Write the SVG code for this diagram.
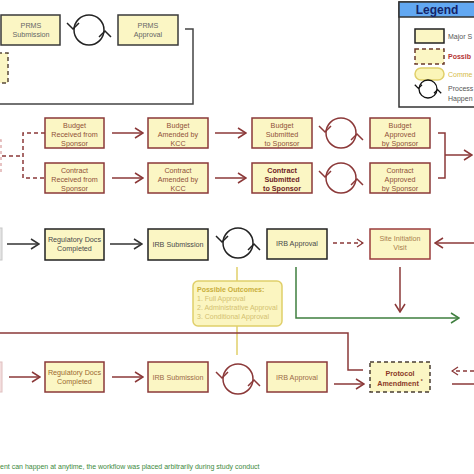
<svg xmlns="http://www.w3.org/2000/svg" width="474" height="474" viewBox="0 0 474 474">
<style>
.bx{fill:#fbf6c4;stroke-width:1.5}
.k{stroke:#333}
.r{stroke:#8b3838}
.d{stroke-dasharray:4,3}
.t{font-family:"Liberation Sans",Arial,sans-serif;font-size:7.2px;text-anchor:middle}
.tg{fill:#666}
.tk{fill:#4a4a4a}
.tb{fill:#8f5038}
.ln{fill:none;stroke-width:1.5}
.lg{font-family:"Liberation Sans",Arial,sans-serif;font-size:7px}
</style>
<defs>
<marker id="mr" viewBox="0 0 10 12" refX="9" refY="6" markerWidth="10" markerHeight="12" markerUnits="userSpaceOnUse" orient="auto"><path d="M1,1 L9,6 L1,11" fill="none" stroke="#8b3838" stroke-width="1.5"/></marker>
<marker id="mk" viewBox="0 0 10 12" refX="9" refY="6" markerWidth="10" markerHeight="12" markerUnits="userSpaceOnUse" orient="auto"><path d="M1,1 L9,6 L1,11" fill="none" stroke="#333" stroke-width="1.5"/></marker>
<marker id="mg" viewBox="0 0 10 12" refX="9" refY="6" markerWidth="10" markerHeight="12" markerUnits="userSpaceOnUse" orient="auto"><path d="M1,1 L9,6 L1,11" fill="none" stroke="#3f7f3f" stroke-width="1.5"/></marker>
<marker id="ms" viewBox="0 0 8 10" refX="7" refY="5" markerWidth="8" markerHeight="10" markerUnits="userSpaceOnUse" orient="auto"><path d="M1,1 L7,5 L1,9" fill="none" stroke="#8b3838" stroke-width="1.3"/></marker>
<g id="cyc" fill="none">
<circle cx="0" cy="0" r="15"/>
<polyline points="-22,-7 -16,-1 -10,-7"/>
<polyline points="22,7 16,1 10,7"/>
</g>
</defs>
<rect width="474" height="474" fill="#fff"/>

<g id="connectors">
<polyline class="ln" stroke="#444" points="185,29 193,29 193,104 0,104"/>
<use href="#cyc" x="89" y="30" stroke="#222" stroke-width="1.5"/>
<line class="ln r d" x1="2" y1="156" x2="23" y2="156"/>
<polyline class="ln r d" points="45,133 23,133 23,178 45,178"/>
<line class="ln r" x1="112" y1="133" x2="143" y2="133" marker-end="url(#mr)"/>
<line class="ln r" x1="112" y1="178" x2="143" y2="178" marker-end="url(#mr)"/>
<line class="ln r" x1="215" y1="133" x2="246" y2="133" marker-end="url(#mr)"/>
<line class="ln r" x1="215" y1="178" x2="246" y2="178" marker-end="url(#mr)"/>
<use href="#cyc" x="341" y="133" stroke="#8b3838" stroke-width="1.5"/>
<use href="#cyc" x="341" y="178" stroke="#8b3838" stroke-width="1.5"/>
<polyline class="ln r" points="438,133 445,133 445,178 438,178"/>
<line class="ln r" x1="445" y1="155" x2="472" y2="155" marker-end="url(#mr)"/>
<line class="ln k" x1="7" y1="244" x2="39" y2="244" marker-end="url(#mk)"/>
<line class="ln k" x1="110" y1="244" x2="142" y2="244" marker-end="url(#mk)"/>
<use href="#cyc" x="238" y="243" stroke="#222" stroke-width="1.5"/>
<line class="ln r d" x1="333" y1="243" x2="363" y2="243" marker-end="url(#ms)"/>
<line class="ln r" x1="474" y1="243" x2="435" y2="243" marker-end="url(#mr)"/>
<line class="ln r" x1="400" y1="267" x2="400" y2="312" marker-end="url(#mr)"/>
<polyline class="ln" stroke="#3f7f3f" points="296,267 296,318 459,318" marker-end="url(#mg)"/>
<line class="ln" stroke="#e0cf6a" x1="237" y1="267" x2="237" y2="281"/>
<line class="ln" stroke="#e0cf6a" x1="237" y1="326" x2="237" y2="355"/>
<polyline class="ln r" points="0,333 348,333 348,370 363,370"/>
<line class="ln r" x1="9" y1="377" x2="40" y2="377" marker-end="url(#mr)"/>
<line class="ln r" x1="112" y1="377" x2="143" y2="377" marker-end="url(#mr)"/>
<use href="#cyc" x="238" y="379" stroke="#8b3838" stroke-width="1.5"/>
<line class="ln r" x1="334" y1="384" x2="364" y2="384" marker-end="url(#mr)"/>
<line class="ln r d" x1="474" y1="371" x2="452" y2="371" marker-end="url(#ms)"/>
<line class="ln r" x1="452" y1="384" x2="474" y2="384"/>
</g>

<g id="edge-fragments">
<rect x="-30" y="53" width="38" height="30" class="bx d" stroke="#5a4a3a"/>
<rect x="-30" y="140" width="31" height="32" fill="none" stroke="#e0b0b0" stroke-width="1.5" stroke-dasharray="3,3"/>
<rect x="-20" y="228" width="22" height="32" fill="#e4e4e4" stroke="#c8c8c8"/>
<rect x="-20" y="362" width="22" height="30" fill="#f3dede" stroke="#e0c0c0"/>
</g>

<g id="prms-submission"><rect x="1" y="15" width="59" height="30" class="bx" stroke="#3a3a3a"/><text class="t tg" x="31" y="27.5">PRMS</text><text class="t tg" x="31" y="36.5">Submission</text></g>
<g id="prms-approval"><rect x="118" y="15" width="60" height="30" class="bx" stroke="#3a3a3a"/><text class="t tg" x="148" y="27.5">PRMS</text><text class="t tg" x="148" y="36.5">Approval</text></g>

<g id="budget-received"><rect x="45" y="118" width="59" height="30" class="bx r"/><text class="t tb" x="74.5" y="127.6">Budget</text><text class="t tb" x="74.5" y="136.6">Received from</text><text class="t tb" x="74.5" y="145.6">Sponsor</text></g>
<g id="budget-amended"><rect x="148" y="118" width="60" height="30" class="bx r"/><text class="t tb" x="178" y="127.6">Budget</text><text class="t tb" x="178" y="136.6">Amended by</text><text class="t tb" x="178" y="145.6">KCC</text></g>
<g id="budget-submitted"><rect x="252" y="118" width="60" height="30" class="bx r"/><text class="t tb" x="282" y="127.6">Budget</text><text class="t tb" x="282" y="136.6">Submitted</text><text class="t tb" x="282" y="145.6">to Sponsor</text></g>
<g id="budget-approved"><rect x="370" y="118" width="60" height="30" class="bx r"/><text class="t tb" x="400" y="127.6">Budget</text><text class="t tb" x="400" y="136.6">Approved</text><text class="t tb" x="400" y="145.6">by Sponsor</text></g>

<g id="contract-received"><rect x="45" y="163" width="59" height="30" class="bx r"/><text class="t tb" x="74.5" y="172.6">Contract</text><text class="t tb" x="74.5" y="181.6">Received from</text><text class="t tb" x="74.5" y="190.6">Sponsor</text></g>
<g id="contract-amended"><rect x="148" y="163" width="60" height="30" class="bx r"/><text class="t tb" x="178" y="172.6">Contract</text><text class="t tb" x="178" y="181.6">Amended by</text><text class="t tb" x="178" y="190.6">KCC</text></g>
<g id="contract-submitted"><rect x="252" y="163" width="60" height="30" class="bx r"/><text class="t" fill="#6e2424" font-weight="bold" font-size="7" x="282" y="172.6">Contract</text><text class="t" fill="#6e2424" font-weight="bold" font-size="7" x="282" y="181.6">Submitted</text><text class="t" fill="#6e2424" font-weight="bold" font-size="7" x="282" y="190.6">to Sponsor</text></g>
<g id="contract-approved"><rect x="370" y="163" width="60" height="30" class="bx r"/><text class="t tb" x="400" y="172.6">Contract</text><text class="t tb" x="400" y="181.6">Approved</text><text class="t tb" x="400" y="190.6">by Sponsor</text></g>

<g id="reg-docs-1"><rect x="45" y="229" width="59" height="31" class="bx" stroke="#222"/><text class="t tk" x="74.5" y="241.5">Regulatory Docs</text><text class="t tk" x="74.5" y="251">Completed</text></g>
<g id="irb-submission-1"><rect x="148" y="229" width="60" height="31" class="bx" stroke="#222"/><text class="t tk" x="178" y="246.5">IRB Submission</text></g>
<g id="irb-approval-1"><rect x="267" y="229" width="60" height="30" class="bx" stroke="#222"/><text class="t tk" x="297" y="246">IRB Approval</text></g>
<g id="site-initiation"><rect x="370" y="229" width="60" height="30" class="bx" stroke="#9a3c3c"/><text class="t" fill="#a8804e" x="400" y="240.5">Site Initiation</text><text class="t" fill="#a8804e" x="400" y="250">Visit</text></g>

<g id="possible-outcomes"><rect x="193" y="281" width="89" height="45" rx="5" fill="#fbf5c0" stroke="#e0cf6a" stroke-width="1.5"/>
<text font-family="Liberation Sans,Arial,sans-serif" font-size="7" fill="#c9ae3c" font-weight="bold" x="197" y="292">Possible Outcomes:</text>
<text font-family="Liberation Sans,Arial,sans-serif" font-size="7" fill="#d3c170" x="197" y="301">1. Full Approval</text>
<text font-family="Liberation Sans,Arial,sans-serif" font-size="7" fill="#d3c170" x="197" y="310">2. Administrative Approval</text>
<text font-family="Liberation Sans,Arial,sans-serif" font-size="7" fill="#d3c170" x="197" y="319">3. Conditional Approval</text></g>

<g id="reg-docs-2"><rect x="45" y="362" width="59" height="30" class="bx r"/><text class="t" fill="#9c6a30" x="74.5" y="374.5">Regulatory Docs</text><text class="t" fill="#9c6a30" x="74.5" y="384">Completed</text></g>
<g id="irb-submission-2"><rect x="148" y="362" width="60" height="30" class="bx r"/><text class="t" fill="#9c6a48" x="178" y="379.5">IRB Submission</text></g>
<g id="irb-approval-2"><rect x="267" y="362" width="60" height="30" class="bx r"/><text class="t" fill="#9c6a48" x="297" y="379.5">IRB Approval</text></g>
<g id="protocol-amendment"><rect x="370" y="362" width="60" height="30" class="bx d" stroke="#4a3e32"/><text class="t" fill="#8a3a26" font-weight="bold" x="400" y="375.5">Protocol</text><text class="t" fill="#8a3a26" font-weight="bold" x="400" y="386">Amendment <tspan font-size="5" dy="-3">*</tspan></text></g>

<g id="legend">
<rect x="399" y="2" width="100" height="105" fill="#fff" stroke="#333" stroke-width="1.5"/>
<rect x="399" y="2" width="100" height="15" fill="#62a8f2" stroke="#333" stroke-width="1.5"/>
<text font-family="Liberation Sans,Arial,sans-serif" font-size="12" font-weight="bold" fill="#15246a" x="437" y="14" text-anchor="middle">Legend</text>
<rect x="415" y="29" width="29" height="14" class="bx" stroke="#222"/>
<text class="lg" fill="#555" x="448" y="39">Major S</text>
<rect x="415" y="49" width="29" height="15" class="bx d" stroke="#6a3a2a"/>
<text class="lg" fill="#b53434" font-weight="bold" x="448" y="59">Possib</text>
<rect x="415" y="68" width="29" height="12" rx="6" fill="#fbf5b8" stroke="#e0cf6a" stroke-width="1.5"/>
<text class="lg" fill="#d6bc4a" x="448" y="77">Comme</text>
<use href="#cyc" transform="translate(428,89) scale(0.6)" stroke="#111" stroke-width="2.2"/>
<text class="lg" fill="#555" x="448" y="91">Process</text>
<text class="lg" fill="#555" x="448" y="101">Happen</text>
</g>

<g id="footnote"><text font-family="Liberation Sans,Arial,sans-serif" font-size="7" fill="#3e8a3e" x="0" y="469">ent can happen at anytime, the workflow was placed arbitrarily during study conduct</text></g>
</svg>
